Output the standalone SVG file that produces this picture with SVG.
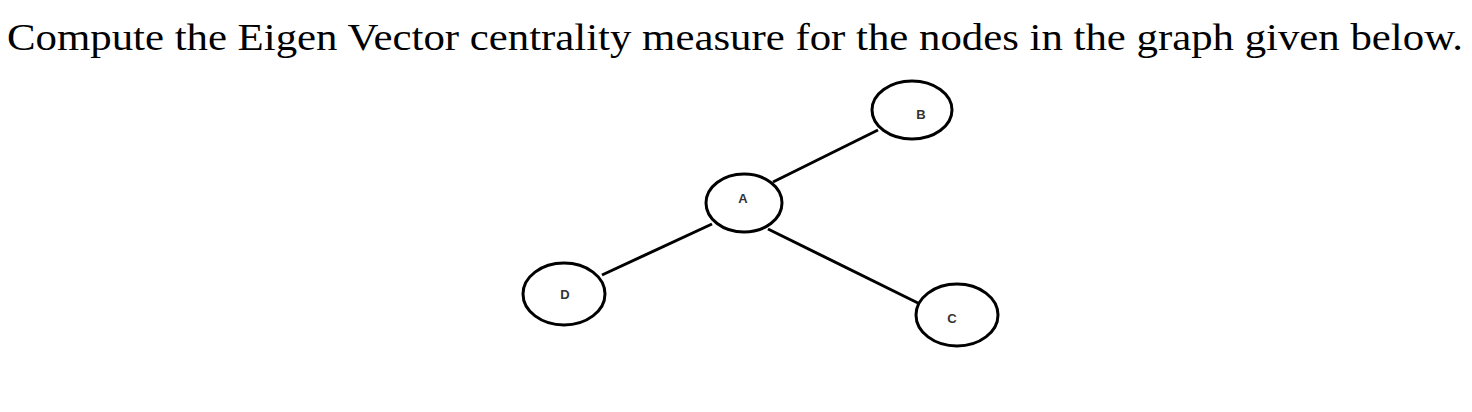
<svg xmlns="http://www.w3.org/2000/svg" width="1472" height="412" viewBox="0 0 1472 412">
<style>
.t{font-family:'Liberation Serif','Times New Roman',serif;font-size:37px;fill:#000}
.n{fill:#fff;stroke:#000;stroke-width:3}
.l{font-family:'Liberation Sans',sans-serif;font-size:13px;font-weight:bold;fill:#333;text-anchor:middle}
.e{stroke:#000;stroke-width:3}
</style>
<rect width="1472" height="412" fill="#fff"/>
<text class="t" x="7" y="50" textLength="1456" lengthAdjust="spacingAndGlyphs">Compute the Eigen Vector centrality measure for the nodes in the graph given below.</text>
<g id="edges">
<line class="e" x1="773" y1="182" x2="878" y2="130"/>
<line class="e" x1="712" y1="224" x2="602" y2="275"/>
<line class="e" x1="768" y1="229" x2="922" y2="305"/>
</g>
<g id="B"><ellipse class="n" cx="912" cy="110" rx="40" ry="29"/><text class="l" x="921" y="119">B</text></g>
<g id="A"><ellipse class="n" cx="744" cy="203" rx="38" ry="29"/><text class="l" x="743" y="203">A</text></g>
<g id="D"><ellipse class="n" cx="564" cy="294" rx="41" ry="31"/><text class="l" x="565" y="299">D</text></g>
<g id="C"><ellipse class="n" cx="957" cy="315" rx="41" ry="31"/><text class="l" x="952" y="323">C</text></g>
</svg>
